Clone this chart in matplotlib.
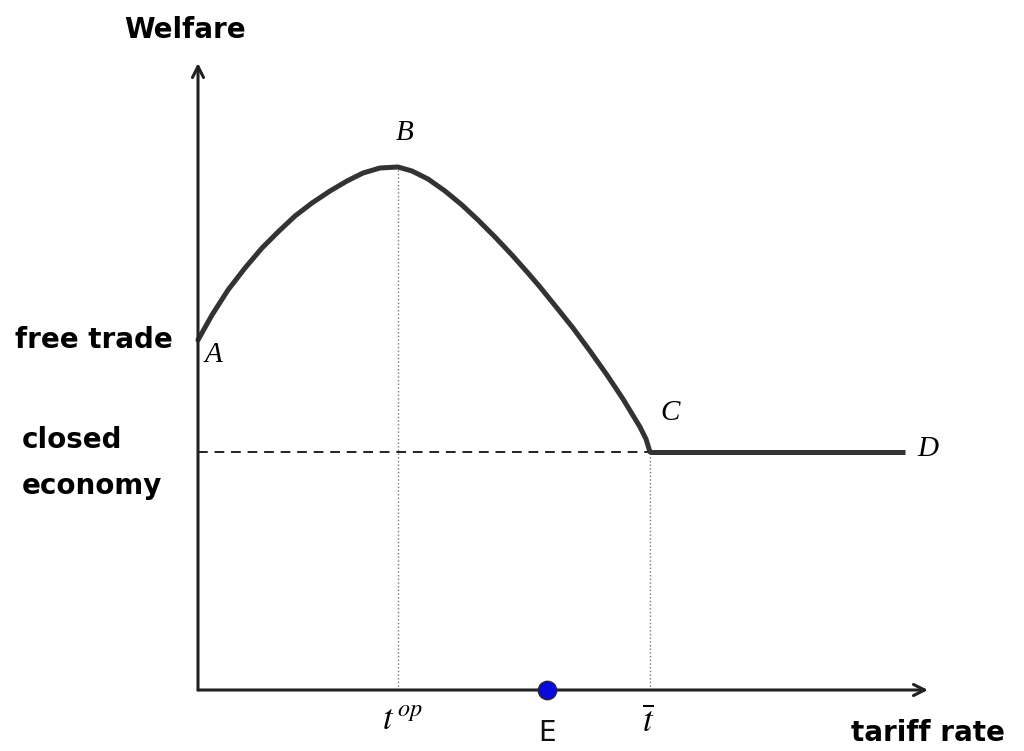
import numpy as np
import matplotlib.pyplot as plt

# ------------------------------
# données
# ------------------------------
tariff = [0.00, 0.14, 0.30, 0.47, 0.64, 0.80, 0.97, 1.14, 1.32, 1.49,
          1.65, 1.82, 2.00, 2.14, 2.30, 2.47, 2.64, 2.80, 2.97, 3.14,
          3.30, 3.42, 3.59, 3.75, 3.92, 4.09, 4.25, 4.42, 4.48, 4.52]
welfare = [3.50, 3.75, 4.00, 4.22, 4.42, 4.58, 4.74, 4.87, 4.99, 5.09,
           5.17, 5.22, 5.23, 5.19, 5.11, 4.99, 4.85, 4.70, 4.53, 4.35,
           4.17, 4.03, 3.82, 3.62, 3.39, 3.15, 2.91, 2.63, 2.51, 2.38]

t_op = 2.0          # tarif optimal (point B)
t_bar = 4.52        # tarif prohibitif (point C)
t_end = 7.07        # fin du segment C-D
w_closed = 2.38     # bien-être en autarcie
w_free = 3.50       # bien-être en libre-échange
e_pos = 3.49        # point E sur l'axe

point_names = ['A', 'B', 'C', 'D']

# ------------------------------
# figure
# ------------------------------
fig = plt.figure(figsize=(10.24, 7.51), dpi=100)
ax = fig.add_axes([0, 0, 1, 1])
ax.set_xlim(-1.98, 8.26)
ax.set_ylim(-0.61, 6.90)
ax.axis('off')

ink = '#222222'

# axes avec flèches
ax.annotate('', xy=(0, 6.27), xytext=(0, 0),
            arrowprops=dict(arrowstyle='->,head_length=0.8,head_width=0.4',
                            lw=2.2, color=ink, shrinkA=0, shrinkB=0))
ax.annotate('', xy=(7.30, 0), xytext=(0, 0),
            arrowprops=dict(arrowstyle='->,head_length=0.8,head_width=0.4',
                            lw=2.2, color=ink, shrinkA=0, shrinkB=0))

# lignes de repère
ax.plot([t_op, t_op], [0, max(welfare)], ':', color='#777777', lw=1.0)
ax.plot([t_bar, t_bar], [0, w_closed], ':', color='#777777', lw=1.0)
ax.plot([0, t_bar], [w_closed, w_closed], color=ink, lw=1.4,
        dashes=(5, 3.5))

# courbe de bien-être
ax.plot(tariff, welfare, color='#333333', lw=3.6,
        solid_capstyle='round', solid_joinstyle='round')
ax.plot([t_bar, t_end], [w_closed, w_closed], color='#333333', lw=3.6,
        solid_capstyle='butt')

# point E
ax.plot(e_pos, 0, 'o', ms=13, color='#0a0adc', mec='#202050', mew=1.2,
        zorder=5)

# étiquettes des points
serif = dict(family='Liberation Serif', style='italic', fontsize=21)
ax.text(0.07, w_free - 0.15, point_names[0], ha='left', va='center', **serif)
ax.text(t_op + 0.07, max(welfare) + 0.34, point_names[1], ha='center',
        va='center', **serif)
ax.text(t_bar + 0.2, w_closed + 0.39, point_names[2], ha='center',
        va='center', **serif)
ax.text(t_end + 0.23, w_closed + 0.03, point_names[3], ha='center',
        va='center', **serif)

# textes
bold = dict(family='DejaVu Sans', fontweight='bold', fontsize=20)
ax.text(-0.13, 6.60, 'Welfare', ha='center', va='center', **bold)
ax.text(-1.83, w_free, 'free trade', ha='left', va='center', **bold)
ax.text(-1.76, 2.50, 'closed', ha='left', va='center', **bold)
ax.text(-1.76, 2.04, 'economy', ha='left', va='center', **bold)
ax.text(7.30, -0.43, 'tariff rate', ha='center', va='center', **bold)

plt.rcParams['mathtext.fontset'] = 'stix'
ax.text(t_op + 0.05, -0.29, r'$t^{\,op}$', ha='center', va='center',
        fontsize=25)
ax.text(t_bar - 0.02, -0.31, r'$\overline{t}$', ha='center', va='center',
        fontsize=25)
ax.text(e_pos, -0.43, 'E', ha='center', va='center', fontsize=20,
        family='DejaVu Sans', color='#111111')

fig.savefig('out.png', dpi=100)
